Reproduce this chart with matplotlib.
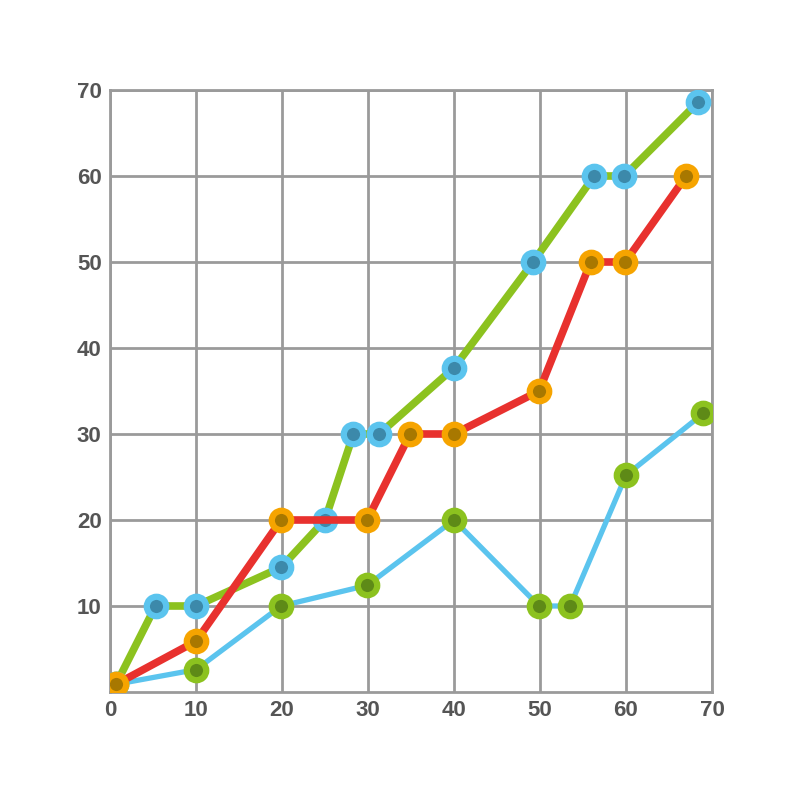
import matplotlib.pyplot as plt

# Serie verde (marcadores azules)
green_x = [0.7, 5.3, 10, 19.9, 25, 28.3, 31.3, 40, 49.2, 56.3, 59.8, 68.4]
green_y = [0.9, 10, 10, 14.5, 20, 30, 30, 37.7, 50, 60, 60, 68.6]

# Serie roja (marcadores naranjas)
red_x = [0.7, 10, 19.9, 29.9, 34.9, 40, 49.9, 55.9, 59.9, 67]
red_y = [0.9, 5.9, 20, 20, 30, 30, 35, 50, 50, 60]

# Serie azul (marcadores verdes)
blue_x = [0.7, 10, 19.9, 29.9, 40, 49.9, 53.5, 60, 69]
blue_y = [0.9, 2.6, 10, 12.4, 20, 10, 10, 25.2, 32.4]

x_ticks = [0, 10, 20, 30, 40, 50, 60, 70]
y_ticks = [10, 20, 30, 40, 50, 60, 70]

GRID = "#9a9a9a"
TEXT = "#555555"

# (x, y, line color, line width, marker edge, marker face, zorder)
SERIES = [
    (blue_x, blue_y, "#5bc4ee", 3.8, "#8cc21f", "#5e8a17", 3),
    (green_x, green_y, "#8cc21f", 5.5, "#5bc4ee", "#3c89aa", 4),
    (red_x, red_y, "#e8312e", 5.5, "#f6a400", "#a87800", 5),
]

plt.rcParams["font.family"] = ["Liberation Sans", "DejaVu Sans"]

fig = plt.figure(figsize=(8, 8), dpi=100)
ax = fig.add_axes([0.1375, 0.135, 0.7525, 0.7525])

for xs, ys, lc, lw, me, mf, z in SERIES:
    ax.plot(xs, ys, color=lc, linewidth=lw, solid_capstyle="round", zorder=z)
    ax.plot(xs, ys, linestyle="none", marker="o", markersize=14,
            markerfacecolor=mf, markeredgecolor=me, markeredgewidth=4.5,
            zorder=z + 0.5)

ax.set_xlim(0, 70)
ax.set_ylim(0, 70)
ax.set_xticks(x_ticks)
ax.set_yticks(y_ticks)
ax.grid(True, color=GRID, linewidth=2, zorder=0)
ax.set_axisbelow(True)
for s in ax.spines.values():
    s.set_color(GRID)
    s.set_linewidth(2)
ax.tick_params(length=0, pad=6, colors=TEXT, labelsize=16)
for lab in ax.get_xticklabels() + ax.get_yticklabels():
    lab.set_fontweight("bold")

fig.savefig("out.png", dpi=100, facecolor="white")
